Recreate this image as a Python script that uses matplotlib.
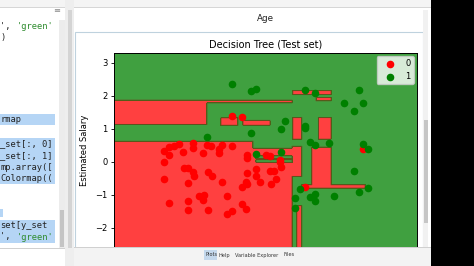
import numpy as np
import matplotlib
matplotlib.use('Agg')
import matplotlib.pyplot as plt
from matplotlib.colors import ListedColormap
from matplotlib.patches import Rectangle

# leaves of the fitted tree in scaled (Age, Estimated Salary) space,
# painted in order: (age_lo, age_hi, salary_lo, salary_hi, class)
leaves = [
    (-2.90, -1.04, 1.127, 1.864, 0),
    (-1.04, 0.66, 1.782, 1.864, 0),
    (-0.76, -0.42, 1.103, 1.329, 0),
    (-0.32, 0.22, 1.103, 1.254, 0),
    (0.674, 1.44, 2.033, 2.154, 0),
    (1.14, 1.44, 1.843, 1.943, 0),
    (0.674, 0.854, 0.686, 1.338, 0),
    (1.186, 1.44, 0.686, 1.338, 0),
    (-2.90, -0.12, -3.0, 0.619, 0),
    (-0.12, 0.66, -3.0, 0.408, 0),
    (0.66, 0.854, -0.444, 0.47, 0),
    (0.754, 0.854, -3.0, -1.329, 0),
    (1.054, 1.44, -0.746, 0.444, 0),
    (0.854, 2.12, -0.794, -0.695, 0),
    (-0.06, 0.66, -0.02, 0.18, 1),
    (-0.06, 0.66, 0.065, 0.095, 0),
]

# test set points, class 0 (did not purchase)
age_0 = [-0.55, -0.35, 2.07, 0.92, -1.90, -1.81, -1.71, -1.61, -1.80, -1.91,
         -1.53, -1.33, -1.33, -1.13, -1.05, -0.97, -0.81, -0.81, -0.75, -0.55,
         -0.25, -0.25, -1.51, -1.43, -1.33, -1.31, -1.91, -1.43, -1.03, -0.95,
         -0.75, -0.25, -0.26, -0.25, -0.35, -0.06, -0.06, 0.02, 0.22, 0.30,
         0.34, 0.23, 0.43, 0.42, 0.42, 0.14, 0.21, -1.21, -1.11, -1.13,
         -0.65, -1.81, -1.43, -1.43, -1.03, -0.65, -0.55, -0.35, -0.26]
salary_0 = [1.38, 1.34, 0.39, -0.75, 0.34, 0.46, 0.49, 0.54, 0.19, -0.02,
            0.31, 0.57, 0.41, 0.28, 0.51, 0.48, 0.38, 0.26, 0.51, 0.48,
            0.21, 0.12, -0.19, -0.19, -0.32, -0.42, -0.52, -0.63, -0.32, -0.42,
            -0.61, -0.34, -0.60, -0.67, -0.76, -0.22, -0.44, -0.60, -0.29, -0.29,
            -0.52, -0.67, -0.16, -0.02, 0.06, 0.21, 0.16, -1.05, -1.00, -1.15,
            -1.05, -1.25, -1.20, -1.45, -1.45, -1.57, -1.50, -1.27, -1.43]

# class 1 (purchased)
age_1 = [-0.55, -0.17, -0.07, 0.91, 1.11, 1.99, 1.69, 2.07, 1.89, 0.51,
         0.43, 0.92, 0.92, -1.04, -0.17, 1.01, 1.12, 1.40, 2.07, 2.18,
         -0.06, 0.43, 1.89, 0.81, 0.72, 0.72, 1.01, 1.12, 1.11, 1.49,
         1.99, 2.18]
salary_1 = [2.34, 2.15, 2.21, 2.17, 2.07, 2.16, 1.77, 1.77, 1.52, 1.22,
            1.00, 1.09, 1.01, 0.76, 0.86, 0.59, 0.50, 0.58, 0.54, 0.39,
            0.24, 0.29, -0.27, -0.83, -1.10, -1.40, -1.07, -0.97, -1.20, -1.05,
            -0.90, -0.79]

code_lines = [(26.5, "', ", "'green'", False), (37.5, ")", "", False),
              (119.5, "rmap", "", True), (144, "_set[:, 0]", "", True),
              (155.5, "_set[:, 1]", "", True), (167, "mp.array([", "", True),
              (178.5, "Colormap((", "", True), (225.5, "set[y_set", "", True),
              (237, "', ", "'green'", True)]
tabs = ['Plots', 'Help', 'Variable Explorer', 'Files']
tab_x = [205, 219, 232, 283]
tab_w = [12, 11, 49, 12]

W, H = 474, 266
fig = plt.figure(figsize=(W / 100, H / 100), dpi=100)
fig.patch.set_facecolor('white')


def box(x0, y0, x1, y1, color, z=0, ec='none', lw=0):
    fig.patches.append(Rectangle((x0 / W, 1 - y1 / H), (x1 - x0) / W, (y1 - y0) / H,
                                 transform=fig.transFigure, facecolor=color,
                                 edgecolor=ec, linewidth=lw, zorder=z))


def label(x, y, s, **kw):
    fig.text(x / W, 1 - y / H, s, **kw)


# --- the plot itself ---
ax = fig.add_axes([114 / W, 1 - 252.7 / H, 303 / W, 200 / H])
X1, X2 = np.meshgrid(np.arange(-2.90, 3.16, 0.004), np.arange(-2.75, 3.30, 0.004))
Z = np.ones_like(X1)
for a0, a1, s0, s1, cls in leaves:
    Z[(X1 >= a0) & (X1 < a1) & (X2 >= s0) & (X2 < s1)] = cls
cmap = ListedColormap(('red', 'green'))
ax.contourf(X1, X2, Z, levels=[-0.5, 0.5, 1.5], alpha=0.75, cmap=cmap)
ax.contour(X1, X2, Z, levels=[0.5], colors=['#6a4a22'], linewidths=0.7, alpha=0.8)
ax.set_xlim(X1.min(), X1.max())
ax.set_ylim(X2.min(), X2.max())

ax.scatter(age_0, salary_0, color=cmap(0), s=20, label='0', zorder=3)
ax.scatter(age_1, salary_1, color=cmap(1), s=20, label='1', zorder=3)
ax.set_title('Decision Tree (Test set)', fontsize=7, pad=4)
ax.set_ylabel('Estimated Salary', fontsize=6)
ax.yaxis.set_label_coords(-0.081, 0.51)
ax.set_yticks([-2, -1, 0, 1, 2, 3])
ax.tick_params(labelsize=6, length=2.5, width=0.6, pad=2)
# the x axis sits below the pane's tab bar, so its labels are hidden
ax.tick_params(axis='x', labelbottom=False, bottom=False)
for sp in ax.spines.values():
    sp.set_linewidth(0.7)
ax.legend(loc='upper right', fontsize=6, handlelength=2.4, borderpad=0.4,
          labelspacing=0.4, handletextpad=0.6, borderaxespad=0.4)

# --- IDE chrome around the figure ---
box(0, 0, W, 7.5, '#f4f4f4', z=1)
box(0, 7.5, W, 8.2, '#d6d6d6', z=1)
label(265, 18.5, 'Age', fontsize=6.3, ha='center', va='center', color='#222222')
box(75, 31.7, 422.5, 262, 'none', z=1, ec='#bfd2de', lw=0.8)

# code pane
for y, txt, green_txt, hl in code_lines:
    if hl:
        box(0, y - 5.8, 55, y + 5.8, '#b5d5f5', z=1)
    label(0.5, y, txt, fontsize=6.3, family='DejaVu Sans Mono', va='center', color='#222222')
    if green_txt:
        label(16.4, y, green_txt, fontsize=6.3, family='DejaVu Sans Mono', va='center', color='#2e8b2e')
box(0, 208.5, 3, 217, '#b5d5f5', z=1)
label(57, 10.5, '\u2261', fontsize=6, ha='center', va='center', color='#888888')
box(59, 20, 64.5, 248, '#ececec', z=1)
box(59.5, 210, 64, 247, '#c4c4c4', z=1)
box(65, 0, 74, 266, '#eeeeee', z=1)
box(68, 10, 72, 248, '#d4d4d4', z=1)

# right scrollbar and black edge
box(423, 10, 428, 247, '#f1f1f1', z=1)
box(423.5, 120, 427.5, 223, '#c6c6c6', z=1)
box(430.5, 0, W, H, 'black', z=6)

# bottom tab bar
box(74, 247, 430.5, H, '#f3f3f3', z=5)
box(74, 247, 430.5, 247.8, '#d0d0d0', z=5)
box(0, 248, 65, 248.7, '#d0d0d0', z=5)
for i, (t, x, w) in enumerate(zip(tabs, tab_x, tab_w)):
    if i == 0:
        box(x - 1, 250, x + w, 260, '#c4d8ec', z=5)
    label(x + w / 2, 255, t, fontsize=3.6, ha='center', va='center', color='#333333', zorder=7)

fig.savefig('out.png', dpi=100)
